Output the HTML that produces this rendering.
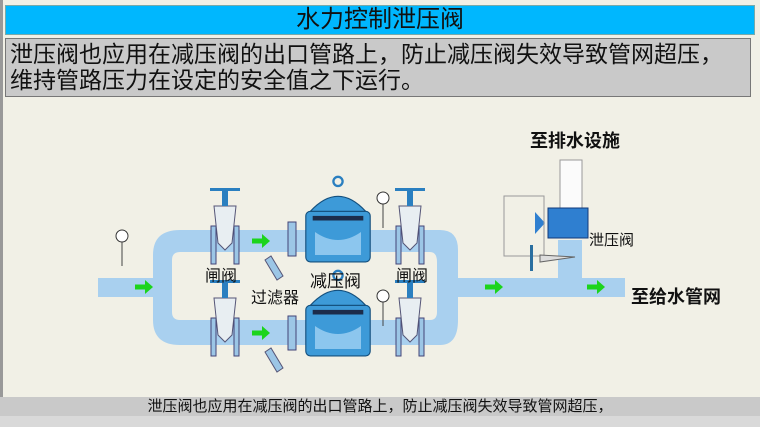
<!DOCTYPE html>
<html><head><meta charset="utf-8"><style>
body{margin:0;width:760px;height:427px;overflow:hidden;background:#f1f0e6;font-family:"Liberation Sans","Noto Sans CJK SC",sans-serif;position:relative}
.t{position:absolute;left:5px;top:5px;width:748px;height:28px;background:#00b7fe;border:1px solid #7aa;text-align:center;font-size:24px;line-height:28px;color:#111}
.g{position:absolute;left:5px;top:38px;width:746px;height:59px;background:#c9c9c9;border:1px solid #777;font-size:23px;line-height:26px;padding:2px 0 0 4px;color:#111;box-sizing:border-box;white-space:nowrap}
.b{position:absolute;left:0;top:397px;width:760px;height:19px;background:#c9c9c9;text-align:center;font-size:15px;line-height:19px;color:#111}
.b2{position:absolute;left:0;top:416px;width:760px;height:11px;background:#d9d9d9}
.l{position:absolute;color:#111}
</style></head><body>
<div style="position:absolute;left:0;top:0;width:3px;height:416px;background:#999"></div>
<div class="t">水力控制泄压阀</div>
<div class="g">泄压阀也应用在减压阀的出口管路上，防止减压阀失效导致管网超压，<br>维持管路压力在设定的安全值之下运行。</div>
<svg style="position:absolute;left:0;top:0" width="760" height="427">
<defs>
<g id="gv"><rect x="-14" y="-12" width="5" height="38" fill="#9cc6e6" stroke="#447"/><rect x="9" y="-12" width="5" height="38" fill="#9cc6e6" stroke="#447"/>
<path d="M-11 -32 L11 -32 L7 5 L0 12 L-7 5Z" fill="#e8eef2" stroke="#557"/><rect x="-15" y="-50" width="30" height="3" fill="#2a7fc0"/><rect x="-3" y="-48" width="6" height="16" fill="#2a7fc0"/></g>
<g id="prv" transform="scale(1.15)"><rect x="-28" y="-18" width="56" height="44" rx="4" fill="#3d9ad8" stroke="#14507e"/><path d="M-24 -18 Q0 -44 24 -18Z" fill="#3d9ad8" stroke="#14507e"/><rect x="-22" y="-14" width="44" height="4" fill="#1c2c4a"/><circle cx="0" cy="-44" r="4" fill="none" stroke="#2a7fc0" stroke-width="2"/><path d="M-20 0 Q0 14 20 0 L20 20 L-20 20Z" fill="#8cc6ee"/></g>
<g id="gauge"><circle r="6" fill="#fff" stroke="#333"/><line x1="0" y1="6" x2="0" y2="30" stroke="#444"/></g>
<g id="ar"><rect x="0" y="-2.5" width="12" height="5" fill="#1cd41c"/><path d="M10 -7 L18 0 L10 7Z" fill="#1cd41c"/></g>
</defs>
<g fill="#a9d0ef">
<rect x="98" y="278" width="60" height="19"/>
<path d="M172 320 L172 260 Q172 252 180 252 L440 252 L440 230 L180 230 Q153 230 153 255 L153 320 Q153 345 180 345 L440 345 L440 320 L180 320 Q172 320 172 312Z"/>
<path d="M430 230 L440 230 Q458 230 458 250 L458 320 Q458 345 440 345 L430 345 L430 320 Q437 320 437 312 L437 262 Q437 252 430 252Z"/>
<rect x="455" y="278" width="170" height="19"/>
<rect x="560" y="160" width="22" height="60" fill="#fbfbfb" stroke="#999"/>
<rect x="558" y="240" width="24" height="40"/>
</g>
<use href="#gv" x="225" y="238"/><use href="#gv" x="225" y="330"/>
<use href="#gv" x="410" y="238"/><use href="#gv" x="410" y="330"/>
<use href="#prv" x="338" y="232"/><use href="#prv" x="338" y="326"/>
<use href="#gauge" x="122" y="236"/><use href="#gauge" x="383" y="198"/><use href="#gauge" x="383" y="296"/>
<path d="M265 260 l12 20 l6 -4 l-12 -20Z M265 352 l12 20 l6 -4 l-12 -20Z" fill="#9cc6e6" stroke="#557"/>
<rect x="288" y="222" width="8" height="34" fill="#9cc6e6" stroke="#447"/><rect x="288" y="316" width="8" height="34" fill="#9cc6e6" stroke="#447"/>
<path d="M548 208 L588 208 L588 238 L548 238Z" fill="#2f7fd0" stroke="#123a7a"/><path d="M535 212 L545 223 L535 234Z" fill="#2f7fd0"/>
<rect x="504" y="196" width="40" height="60" fill="none" stroke="#999"/>
<path d="M540 255 L575 257 L540 262Z" fill="#ddd" stroke="#666"/><rect x="530" y="245" width="3" height="26" fill="#2a6fa0"/>
<use href="#ar" x="252" y="241"/><use href="#ar" x="252" y="333"/><use href="#ar" x="135" y="287"/><use href="#ar" x="485" y="287"/><use href="#ar" x="587" y="287"/>
</svg>
<div class="l" style="left:205px;top:262px;font-size:16px">闸阀</div>
<div class="l" style="left:396px;top:262px;font-size:16px">闸阀</div>
<div class="l" style="left:310px;top:267px;font-size:17px">减压阀</div>
<div class="l" style="left:251px;top:284px;font-size:16px">过滤器</div>
<div class="l" style="left:530px;top:127px;font-size:18px;font-weight:bold">至排水设施</div>
<div class="l" style="left:589px;top:229px;font-size:15px">泄压阀</div>
<div class="l" style="left:631px;top:283px;font-size:18px;font-weight:bold">至给水管网</div>
<div class="b">泄压阀也应用在减压阀的出口管路上，防止减压阀失效导致管网超压，</div>
<div class="b2"></div>
</body></html>
